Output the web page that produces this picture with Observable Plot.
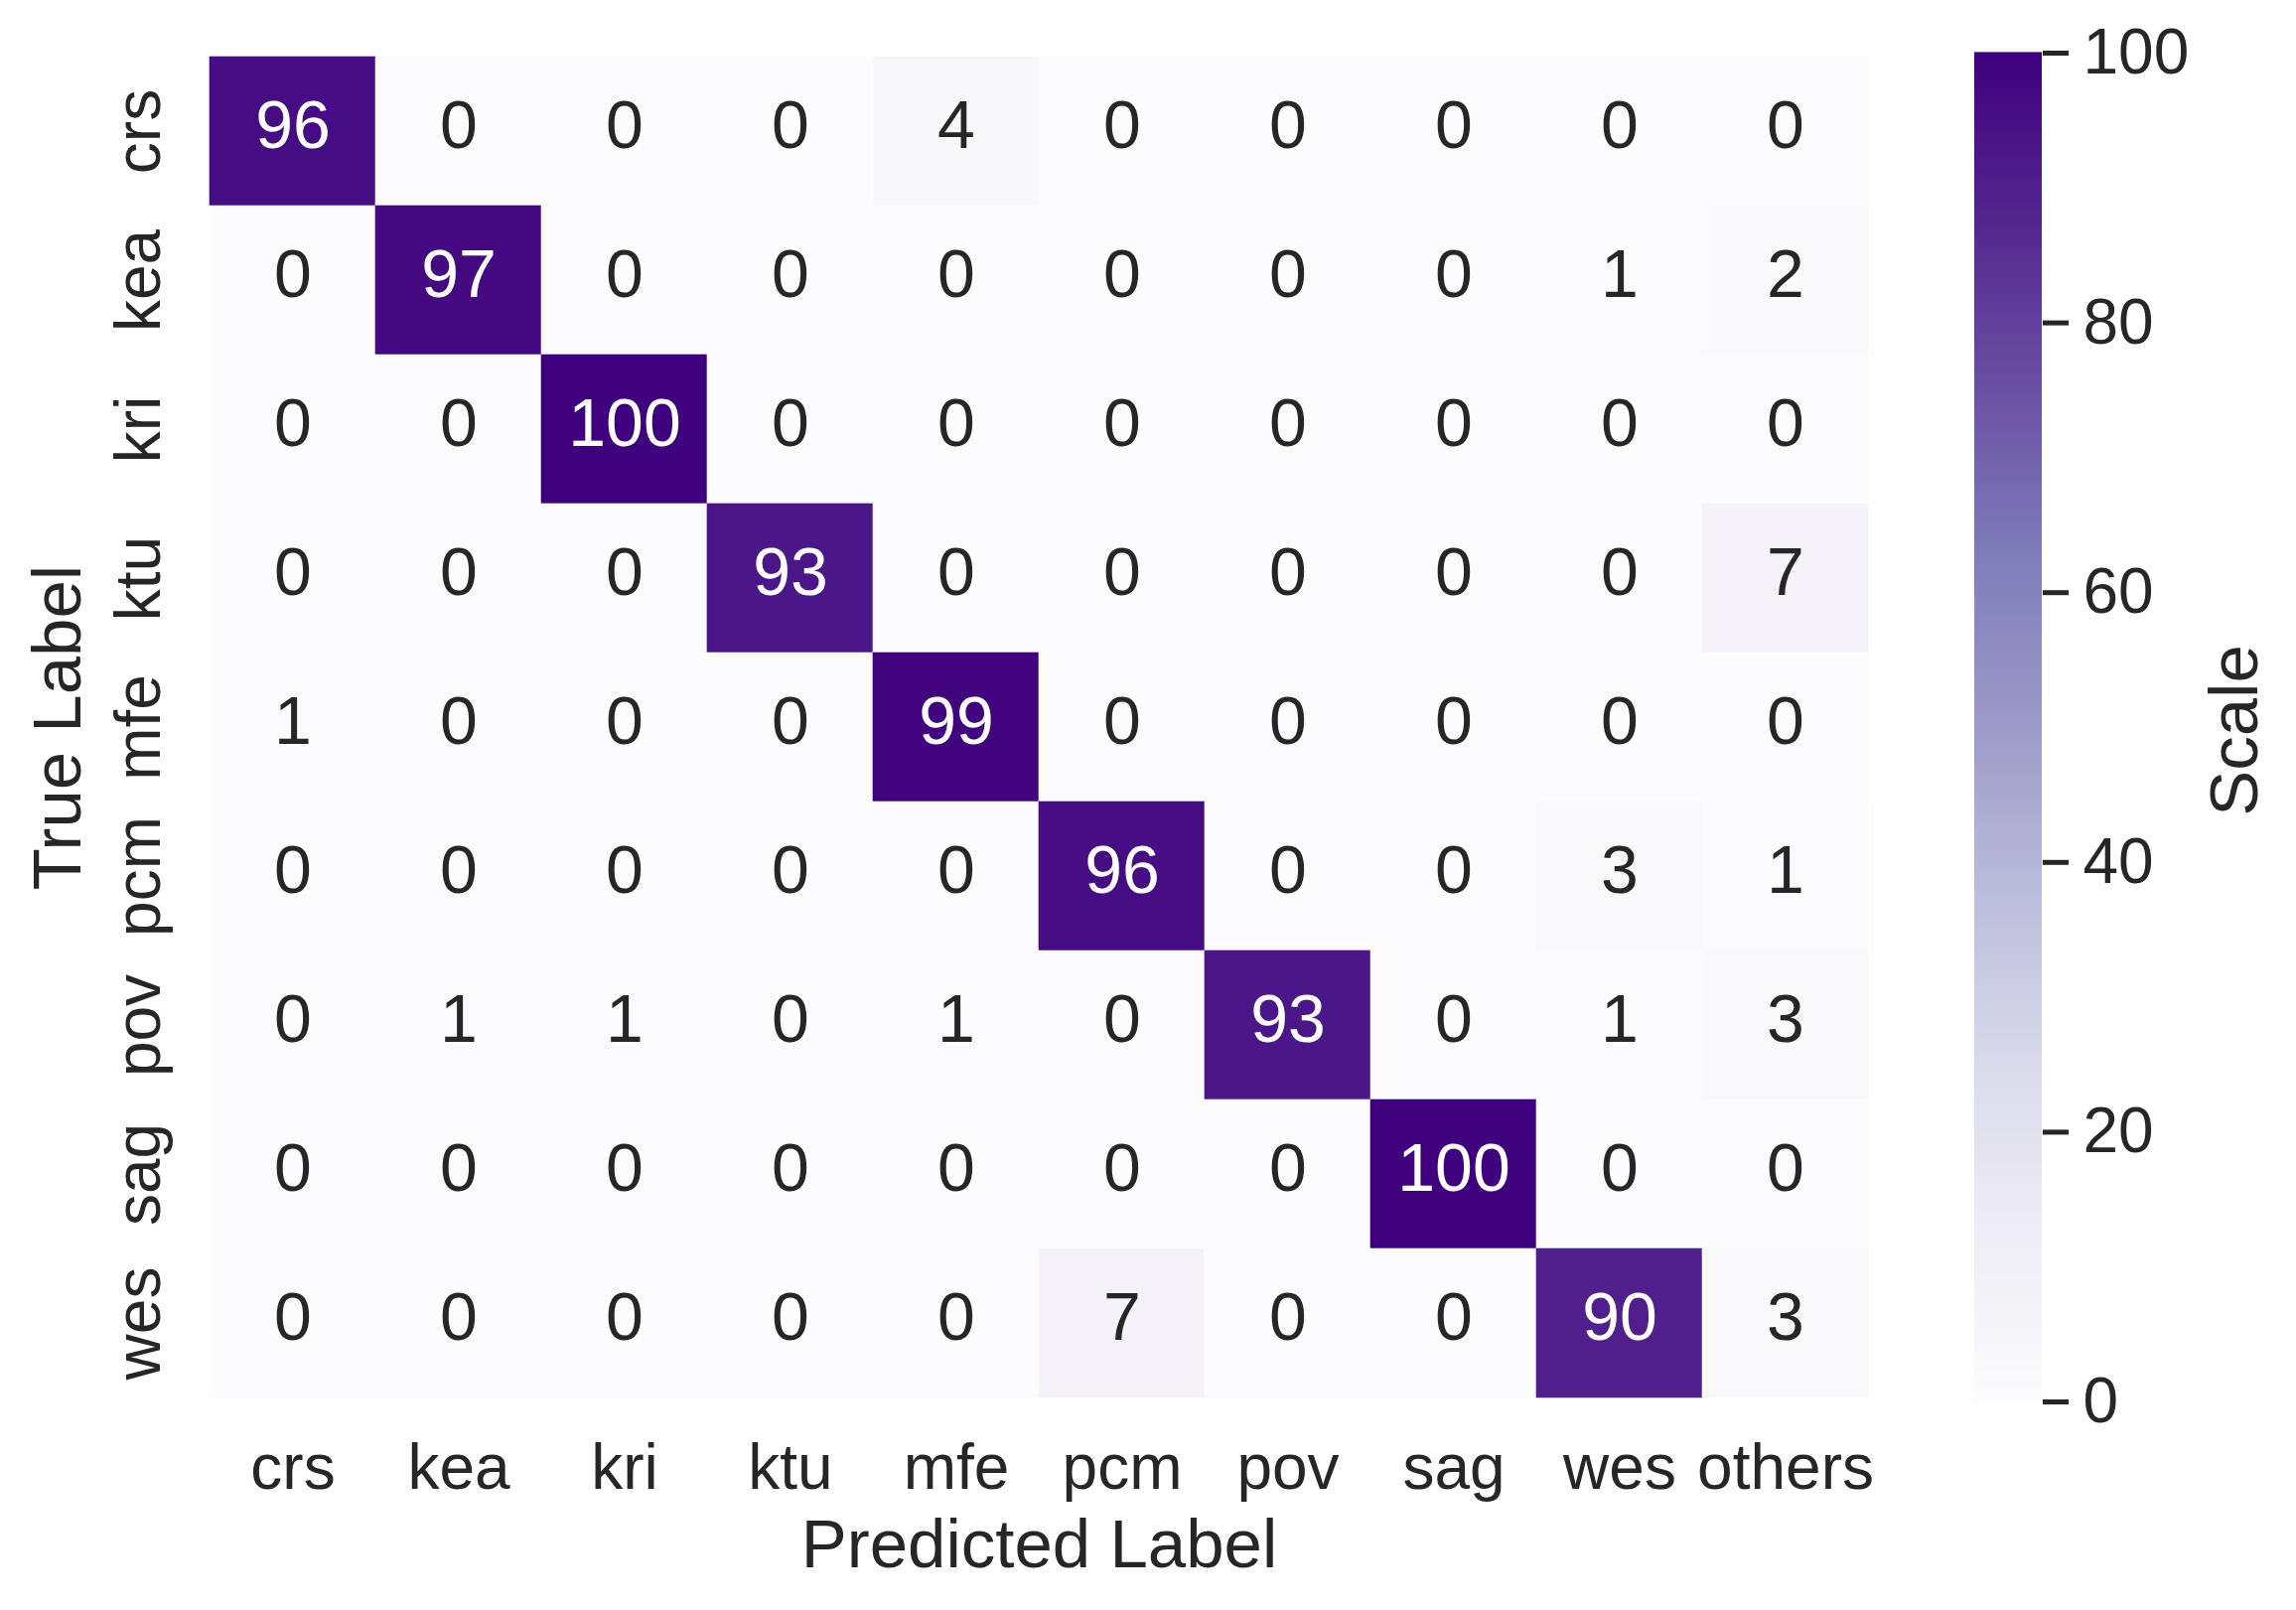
<!DOCTYPE html>
<html>
<head>
<meta charset="utf-8">
<script src="https://cdn.jsdelivr.net/npm/d3@7"></script>
<script src="https://cdn.jsdelivr.net/npm/@observablehq/plot@0.6"></script>
<style>
  html, body { margin: 0; padding: 0; background: #ffffff; }
  #wrap { position: relative; width: 2312px; height: 1621px; overflow: hidden; background: #fff; }
  #heat { position: absolute; left: 0; top: 0; }
  #bar { position: absolute; left: 1960px; top: 0; }
</style>
</head>
<body>
<div id="wrap"><div id="heat"></div><div id="bar"></div></div>
<script>
// ---- data ----
const trueLabels = ["crs", "kea", "kri", "ktu", "mfe", "pcm", "pov", "sag", "wes"];
const predLabels = ["crs", "kea", "kri", "ktu", "mfe", "pcm", "pov", "sag", "wes", "others"];
const rowCrs = [96, 0, 0, 0, 4, 0, 0, 0, 0, 0];
const rowKea = [0, 97, 0, 0, 0, 0, 0, 0, 1, 2];
const rowKri = [0, 0, 100, 0, 0, 0, 0, 0, 0, 0];
const rowKtu = [0, 0, 0, 93, 0, 0, 0, 0, 0, 7];
const rowMfe = [1, 0, 0, 0, 99, 0, 0, 0, 0, 0];
const rowPcm = [0, 0, 0, 0, 0, 96, 0, 0, 3, 1];
const rowPov = [0, 1, 1, 0, 1, 0, 93, 0, 1, 3];
const rowSag = [0, 0, 0, 0, 0, 0, 0, 100, 0, 0];
const rowWes = [0, 0, 0, 0, 0, 7, 0, 0, 90, 3];
const colorTicks = [0, 20, 40, 60, 80, 100];
const purples = ["#fcfbfd", "#efedf5", "#dadaeb", "#bcbddc", "#9e9ac8", "#807dba", "#6a51a3", "#54278f", "#3f007d"];

const rows = [rowCrs, rowKea, rowKri, rowKtu, rowMfe, rowPcm, rowPov, rowSag, rowWes];
const cells = [];
rows.forEach((r, i) => r.forEach((v, j) => cells.push({t: trueLabels[i], p: predLabels[j], v})));

const FONT = "'Liberation Sans', Arial, Helvetica, sans-serif";
const INK = "#262626";
const colorScale = {type: "linear", domain: [0, 100], interpolate: d3.piecewise(d3.interpolateRgb, purples)};

const heat = Plot.plot({
  width: 1960, height: 1621,
  marginLeft: 209, marginRight: 77, marginTop: 53, marginBottom: 210,
  style: {fontFamily: FONT, color: INK, background: "transparent", overflow: "visible"},
  x: {type: "band", domain: predLabels, padding: 0, label: null},
  y: {type: "band", domain: trueLabels, padding: 0, label: null},
  color: colorScale,
  marks: [
    Plot.cell(cells, {x: "p", y: "t", fill: "v", stroke: "v", strokeWidth: 0.6}),
    Plot.text(cells.filter(d => d.v > 50), {x: "p", y: "t", text: d => String(d.v), fill: "white", fontSize: 68, dy: -5}),
    Plot.text(cells.filter(d => d.v <= 50), {x: "p", y: "t", text: d => String(d.v), fill: INK, fontSize: 68, dy: -5}),
    Plot.axisX({anchor: "bottom", tickSize: 0, tickPadding: 42, fontSize: 64, fill: INK, label: null}),
    Plot.axisY({anchor: "left", tickSize: 0, tickRotate: -90, tickPadding: 49, textAnchor: "middle", lineAnchor: "bottom", fontSize: 64, fill: INK, label: null}),
    Plot.text(["True Label"], {frameAnchor: "left", text: d => d, dx: -129, rotate: -90, textAnchor: "middle", lineAnchor: "bottom", fontSize: 69, fill: INK}),
    Plot.text(["Predicted Label"], {frameAnchor: "bottom", text: d => d, dy: 166, textAnchor: "middle", lineAnchor: "bottom", fontSize: 69, fill: INK})
  ]
});
document.getElementById("heat").appendChild(heat);

const stops = d3.range(0, 100, 0.25);
const bar = Plot.plot({
  width: 352, height: 1621,
  marginLeft: 28, marginRight: 256, marginTop: 53, marginBottom: 210,
  style: {fontFamily: FONT, color: INK, background: "transparent", overflow: "visible"},
  y: {type: "linear", domain: [0, 100], label: null},
  color: colorScale,
  marks: [
    Plot.rect(stops, {y1: d => d, y2: d => d + 0.25, fill: d => d + 0.125, insetTop: -0.6, insetBottom: -0.6}),
    Plot.axisY({anchor: "right", ticks: colorTicks, tickSize: 26, tickPadding: 15, strokeWidth: 5, stroke: INK, fontSize: 64, fill: INK, label: null}),
    Plot.text(["Scale"], {frameAnchor: "right", text: d => d, dx: 216, dy: 3, rotate: -90, textAnchor: "middle", lineAnchor: "bottom", fontSize: 69, fill: INK})
  ]
});
document.getElementById("bar").appendChild(bar);
</script>
</body>
</html>
